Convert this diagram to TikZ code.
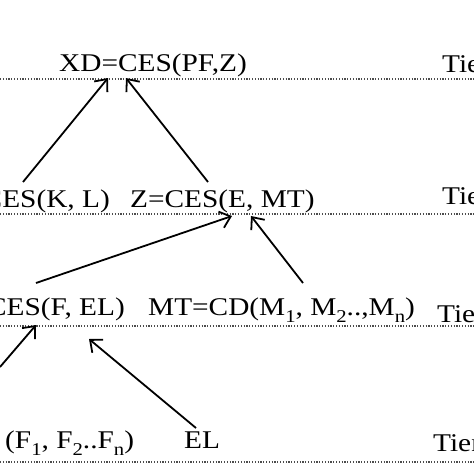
\documentclass[tikz,border=0pt]{standalone}
\usepackage{fontspec}
\setmainfont{Liberation Serif}[FakeStretch=1.15]
\usetikzlibrary{arrows.meta}
\newcommand{\lowidx}[1]{\raisebox{-0.28em}{\fontsize{18pt}{18pt}\selectfont #1}}
\begin{document}
\begin{tikzpicture}[x=1pt,y=-1pt,
  lbl/.style={inner sep=0pt,font=\fontsize{25.5pt}{25.5pt}\selectfont},
  dotline/.style={line width=1.1pt,dash pattern=on 1.1pt off 1.7pt,black!70},
  arr/.style={line width=1.8pt,-{Straight Barb[length=10pt,width=17pt,line width=1.8pt]}}]
\useasboundingbox (0,0) rectangle (474,474);
\clip (0,0) rectangle (474,474);
% dotted tier lines
\coordinate (d1a) at (0,79);  \coordinate (d1b) at (474,79);
\coordinate (d2a) at (0,214); \coordinate (d2b) at (474,214);
\coordinate (d3a) at (0,326); \coordinate (d3b) at (474,326);
\coordinate (d4a) at (0,462); \coordinate (d4b) at (474,462);
\draw[dotline] (d1a) -- (d1b);
\draw[dotline] (d2a) -- (d2b);
\draw[dotline] (d3a) -- (d3b);
\draw[dotline] (d4a) -- (d4b);
% texts
\node[lbl,anchor=base west] (xd) at (59,71) {XD=CES(PF,Z)};
\node[lbl,anchor=base west] (t1) at (442,72) {Tier};
\node[lbl,anchor=base east] (pf) at (110,207) {CES(K, L)};
\node[lbl,anchor=base west] (z) at (130,207) {Z=CES(E, MT)};
\node[lbl,anchor=base west] (t2) at (442,204) {Tier};
\node[lbl,anchor=base east] (e) at (125,315) {CES(F, EL)};
\node[lbl,anchor=base west] (mt) at (148,315) {MT=CD(M\lowidx{1}, M\lowidx{2}..,M\lowidx{n})};
\node[lbl,anchor=base west] (t3) at (437,322) {Tier};
\node[lbl,anchor=base west] (f) at (5,448) {(F\lowidx{1}, F\lowidx{2}..F\lowidx{n})};
\node[lbl,anchor=base west] (el) at (184,448) {EL};
\node[lbl,anchor=base west] (t4) at (433,451) {Tier};
% connector end points
\coordinate (pfTop) at (23,182);  \coordinate (xdA) at (108,78);
\coordinate (zTop) at (208,182);  \coordinate (xdB) at (126,78);
\coordinate (eTop) at (36,283);   \coordinate (zA) at (232,216);
\coordinate (mtTop) at (303,283); \coordinate (zB) at (251,216);
\coordinate (fTop) at (0,367);    \coordinate (eA) at (36,325);
\coordinate (elTop) at (196,428); \coordinate (eB) at (89,339);
\draw[arr] (pfTop) -- (xdA);
\draw[arr] (zTop) -- (xdB);
\draw[arr] (eTop) -- (zA);
\draw[arr] (mtTop) -- (zB);
\draw[arr] (fTop) -- (eA);
\draw[arr] (elTop) -- (eB);
\end{tikzpicture}
\end{document}
